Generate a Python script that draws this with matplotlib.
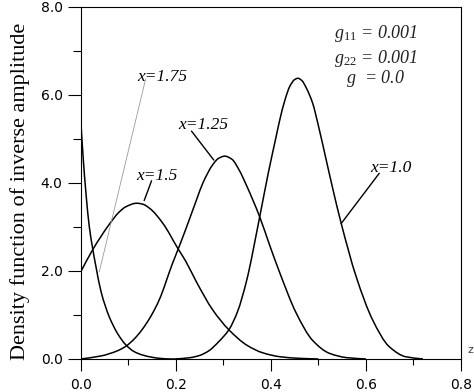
import matplotlib.pyplot as plt
from matplotlib.path import Path
from matplotlib.patches import PathPatch
from matplotlib.ticker import MultipleLocator, FormatStrFormatter

# density curves
z_175 = [0.0, 0.0055, 0.011, 0.018, 0.025, 0.032, 0.043, 0.060, 0.078, 0.095, 0.112, 0.130, 0.150, 0.165, 0.19, 0.22]
d_175 = [5.43, 4.52, 3.77, 3.01, 2.52, 2.10, 1.52, 0.96, 0.57, 0.32, 0.17, 0.09, 0.04, 0.016, 0.0, 0.0]

z_15 = [0.0, 0.025, 0.06, 0.08, 0.095, 0.1175, 0.13, 0.1455, 0.173, 0.205, 0.221, 0.2435, 0.278, 0.312, 0.35, 0.383, 0.42, 0.46, 0.5]
d_15 = [1.98, 2.48, 3.06, 3.33, 3.46, 3.54, 3.52, 3.42, 3.08, 2.50, 2.22, 1.75, 1.11, 0.66, 0.31, 0.14, 0.05, 0.015, 0.0]

z_125 = [0.0, 0.043, 0.078, 0.095, 0.113, 0.130, 0.148, 0.165, 0.193, 0.208, 0.2295, 0.244, 0.257, 0.278, 0.29, 0.303,
         0.318, 0.333, 0.3485, 0.3765, 0.397, 0.418, 0.4535, 0.488, 0.523, 0.56, 0.6]
d_125 = [0.0, 0.07, 0.19, 0.29, 0.46, 0.68, 0.98, 1.34, 2.17, 2.58, 3.20, 3.63, 4.00, 4.42, 4.56, 4.61,
         4.54, 4.30, 3.95, 3.23, 2.60, 1.98, 1.04, 0.42, 0.13, 0.03, 0.0]

z_10 = [0.2, 0.23, 0.25, 0.27, 0.29, 0.312, 0.33, 0.3485, 0.3765, 0.395, 0.411, 0.418, 0.43, 0.44, 0.45, 0.457, 0.465,
        0.475, 0.488, 0.5, 0.5165, 0.53, 0.548, 0.5795, 0.614, 0.649, 0.684, 0.72]
d_10 = [0.0, 0.03, 0.08, 0.19, 0.39, 0.67, 1.08, 1.76, 3.23, 4.25, 5.05, 5.40, 5.90, 6.20, 6.35, 6.38, 6.33,
        6.15, 5.81, 5.30, 4.52, 3.88, 3.08, 1.87, 0.89, 0.28, 0.05, 0.0]

curve_labels = ['x=1.75', 'x=1.5', 'x=1.25', 'x=1.0']
label_pos = [(0.171, 6.41), (0.160, 4.16), (0.257, 5.32), (0.652, 4.34)]
leader_from = [(0.1365, 6.36), (0.149, 4.05), (0.233, 5.18), (0.628, 4.22)]
leader_to = [(0.039, 1.98), (0.1335, 3.60), (0.28, 4.52), (0.548, 3.08)]
leader_col = ['#9a9a9a', 'black', 'black', 'black']
leader_lw = [0.6, 1.0, 1.0, 1.0]

params = [r'$g_{\mathit{11}}$ = 0.001', r'$g_{\mathit{22}}$ = 0.001', r'$g$  = 0.0']
params_y = [7.40, 6.84, 6.37]


def smooth_path(z, d):
    # monotone cubic (bezier) through the read points
    n = len(z)
    s = [(d[i + 1] - d[i]) / (z[i + 1] - z[i]) for i in range(n - 1)]
    m = [s[0]] + [0.0] * (n - 2) + [s[-1]]
    for i in range(1, n - 1):
        if s[i - 1] * s[i] > 0:
            h0, h1 = z[i] - z[i - 1], z[i + 1] - z[i]
            w1, w2 = 2 * h1 + h0, h1 + 2 * h0
            m[i] = (w1 + w2) / (w1 / s[i - 1] + w2 / s[i])
    verts = [(z[0], d[0])]
    codes = [Path.MOVETO]
    for i in range(n - 1):
        h = z[i + 1] - z[i]
        verts += [(z[i] + h / 3, d[i] + m[i] * h / 3),
                  (z[i + 1] - h / 3, d[i + 1] - m[i + 1] * h / 3),
                  (z[i + 1], d[i + 1])]
        codes += [Path.CURVE4] * 3
    return Path(verts, codes)


plt.rcParams['mathtext.fontset'] = 'custom'
plt.rcParams['mathtext.it'] = 'Liberation Serif:italic'
plt.rcParams['mathtext.rm'] = 'Liberation Serif'

fig = plt.figure(figsize=(4.74, 3.92), dpi=100)
ax = fig.add_axes([0.1703, 0.0842, 0.8023, 0.898])

for z, d in [(z_175, d_175), (z_15, d_15), (z_125, d_125), (z_10, d_10)]:
    ax.add_patch(PathPatch(smooth_path(z, d), fill=False, edgecolor='black', lw=1.1))

for lab, p, a, b, c, w in zip(curve_labels, label_pos, leader_from, leader_to, leader_col, leader_lw):
    ax.text(p[0], p[1], lab, fontsize=12.5, family='Liberation Serif', style='italic',
            ha='center', va='center')
    ax.annotate('', xy=b, xytext=a,
                arrowprops=dict(arrowstyle='-', color=c, lw=w, shrinkA=0, shrinkB=0))

for s, yy in zip(params, params_y):
    ax.text(0.62, yy, s, fontsize=13, family='Liberation Serif', style='italic',
            ha='center', va='center', color='#222222')

ax.set_xlim(0, 0.8)
ax.set_ylim(0, 8)
ax.xaxis.set_major_locator(MultipleLocator(0.2))
ax.xaxis.set_minor_locator(MultipleLocator(0.1))
ax.yaxis.set_major_locator(MultipleLocator(2))
ax.yaxis.set_minor_locator(MultipleLocator(1))
ax.xaxis.set_major_formatter(FormatStrFormatter('%.1f'))
ax.yaxis.set_major_formatter(FormatStrFormatter('%.1f'))
ax.tick_params(axis='x', which='major', length=8.5, width=0.8, pad=5, labelsize=10)
ax.tick_params(axis='x', which='minor', length=4.5, width=0.8)
ax.tick_params(axis='y', which='major', length=9.5, width=0.8, pad=3.5, labelsize=10)
ax.tick_params(axis='y', which='minor', length=5.5, width=0.8)
for sp in ax.spines.values():
    sp.set_linewidth(0.8)

fig.text(20.5 / 474, 1 - 191 / 392, 'Density function of inverse amplitude', rotation=90,
         ha='center', va='center', fontsize=16, family='Liberation Serif')
fig.text(470 / 474, 1 - 350 / 392, 'z', fontsize=8, ha='center', va='center', color='#444444')

fig.savefig('out.png', dpi=100)
